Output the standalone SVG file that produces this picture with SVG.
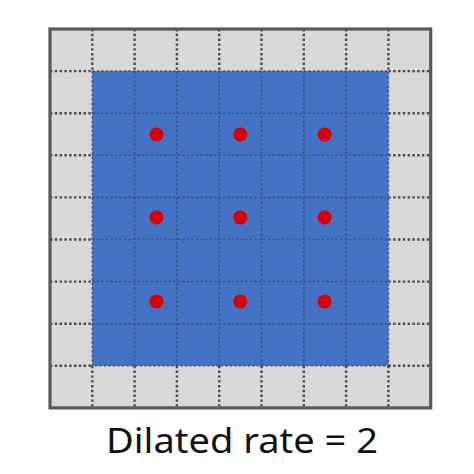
<svg xmlns="http://www.w3.org/2000/svg" width="474" height="474" viewBox="0 0 474 474">
<style>
.g{stroke:#4a4a4a;stroke-width:2.4;stroke-dasharray:2.4 2.4;fill:none}
.gi{stroke:#3a4f78;stroke-width:1.6;stroke-dasharray:2.5 2;fill:none;opacity:0.85}
.dot{fill:#d80000}
.lbl{font-family:"Noto Sans","Open Sans","DejaVu Sans",sans-serif;font-size:34px;fill:#111}
</style>
<rect width="474" height="474" fill="#fff"/>
<rect x="50" y="29" width="380.7" height="378.9" fill="#d9d9d9"/>
<rect x="92.3" y="71.1" width="296.1" height="294.7" fill="#4472c4"/>
<g id="outer-grid">
<path class="g" d="M92.3 29V71.1M134.6 29V71.1M176.9 29V71.1M219.2 29V71.1M261.5 29V71.1M303.8 29V71.1M346.1 29V71.1M388.4 29V71.1"/>
<path class="g" d="M92.3 365.8V407.9M134.6 365.8V407.9M176.9 365.8V407.9M219.2 365.8V407.9M261.5 365.8V407.9M303.8 365.8V407.9M346.1 365.8V407.9M388.4 365.8V407.9"/>
<path class="g" d="M50 71.1H92.3M50 113.2H92.3M50 155.3H92.3M50 197.4H92.3M50 239.5H92.3M50 281.6H92.3M50 323.7H92.3M50 365.8H92.3"/>
<path class="g" d="M388.4 71.1H430.7M388.4 113.2H430.7M388.4 155.3H430.7M388.4 197.4H430.7M388.4 239.5H430.7M388.4 281.6H430.7M388.4 323.7H430.7M388.4 365.8H430.7"/>
</g>
<g id="inner-grid">
<path class="gi" d="M134.6 71.1V365.8M176.9 71.1V365.8M219.2 71.1V365.8M261.5 71.1V365.8M303.8 71.1V365.8M346.1 71.1V365.8"/>
<path class="gi" d="M92.3 113.2H388.4M92.3 155.3H388.4M92.3 197.4H388.4M92.3 239.5H388.4M92.3 281.6H388.4M92.3 323.7H388.4"/>
<rect class="gi" x="92.3" y="71.1" width="296.1" height="294.7"/>
</g>
<rect x="50" y="29" width="380.7" height="378.9" fill="none" stroke="#595959" stroke-width="3.2"/>
<g id="dots">
<circle class="dot" cx="156.5" cy="134.5" r="7"/>
<circle class="dot" cx="240.3" cy="134.5" r="7"/>
<circle class="dot" cx="324.6" cy="134.5" r="7"/>
<circle class="dot" cx="156.5" cy="217.5" r="7"/>
<circle class="dot" cx="240.3" cy="217.5" r="7"/>
<circle class="dot" cx="324.6" cy="217.5" r="7"/>
<circle class="dot" cx="156.5" cy="301.5" r="7"/>
<circle class="dot" cx="240.3" cy="301.5" r="7"/>
<circle class="dot" cx="324.6" cy="301.5" r="7"/>
</g>
<text class="lbl" x="106" y="452.5" textLength="272" lengthAdjust="spacingAndGlyphs">Dilated rate = 2</text>
</svg>
